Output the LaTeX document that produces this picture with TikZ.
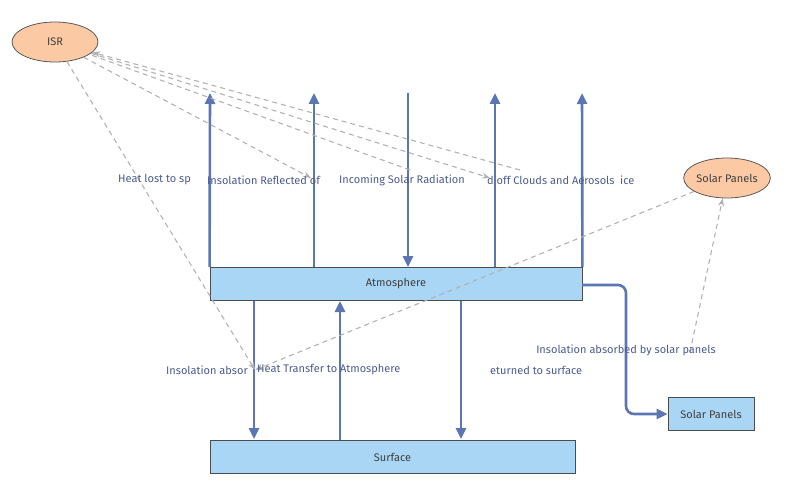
\documentclass[tikz,border=0pt]{standalone}
\usepackage{fontspec}
\setmainfont{Fira Sans}
\usetikzlibrary{arrows.meta,shapes.geometric}
\definecolor{bl}{HTML}{5B76B3}
\definecolor{bx}{HTML}{A9D6F5}
\definecolor{or}{HTML}{FBC9A3}
\definecolor{tx}{HTML}{4C5C8C}
\begin{document}
\begin{tikzpicture}[x=1pt,y=-1pt,font=\fontsize{11}{12}\selectfont,
  box/.style={draw=black!70,fill=bx,thick,minimum height=33pt,inner sep=0pt,text=black!75},
  ell/.style={ellipse,draw=black!65,fill=or,thick,minimum width=86pt,minimum height=40pt,inner sep=0pt,text=black!75},
  flow/.style={draw=bl,line width=2.6pt,-{Triangle[length=11pt,width=10pt]}},
  dep/.style={draw=gray!60,dashed,line width=1.1pt,dash pattern=on 5pt off 4pt,-{Stealth[length=8pt]}},
  lab/.style={text=tx,inner sep=0pt}]
\useasboundingbox (0,0) rectangle (800,484);
\node[box,minimum width=372pt] (atm) at (396,284) {Atmosphere};
\node[box,minimum width=365pt] (srf) at (392.5,457) {Surface};
\node[box,minimum width=86pt] (sp) at (711,414) {Solar Panels};
\node[ell] (isr) at (55,42) {ISR};
\node[ell] (spe) at (727,178) {Solar Panels};
\coordinate (u1) at (210,93); \coordinate (u2) at (314,93);
\coordinate (d1) at (408,93); \coordinate (u3) at (495,93); \coordinate (u4) at (582,93);
\draw[flow] (atm.north west) -- (u1);
\draw[flow] (314,267) -- (u2);
\draw[flow] (d1) -- (atm.north -| d1);
\draw[flow] (495,267) -- (u3);
\draw[flow] (atm.north east) -- (u4);
\draw[flow] (254,301) -- (254,439);
\draw[flow] (340,440) -- (340,301);
\draw[flow] (461,301) -- (461,439);
\draw[flow,rounded corners=8pt] (582,285) -- (626,285) -- (626,414) -- (sp.west);
\coordinate (a1) at (311,178); \coordinate (a2) at (490,178);
\coordinate (a3) at (255,370); \coordinate (a4) at (410,170); \coordinate (a5) at (520,170);
\coordinate (a6) at (690,352);
\draw[dep] (isr) -- (a1);
\draw[dep] (isr) -- (a2);
\draw[dep,-] (a4) -- (isr);
\draw[dep] (a5) -- (isr);
\draw[dep] (isr) -- (a3);
\draw[dep] (spe) -- (a3);
\draw[dep] (a6) -- (spe);
\node[lab,anchor=west] (t1) at (118,180) {Heat lost to sp};
\node[lab,anchor=west] (t2) at (207,180) {Insolation Reflected of};
\node[lab,anchor=west] (t3) at (339,180) {Incoming Solar Radiation};
\node[lab,anchor=west] (t4) at (487,180) {d off Clouds and Aerosols};
\node[lab,anchor=west] (t5) at (620,180) {ice};
\node[lab,anchor=west] (t6) at (166,370) {Insolation absor};
\node[lab,anchor=west] (t7) at (257,370) {Heat Transfer to Atmosphere};
\node[lab,anchor=west] (t8) at (490,370) {eturned to surface};
\node[lab] (t9) at (626,350) {Insolation absorbed by solar panels};
\end{tikzpicture}
\end{document}
